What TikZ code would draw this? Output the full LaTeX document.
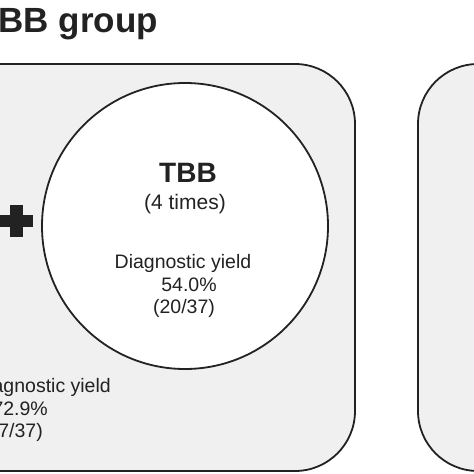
\documentclass[tikz,border=0pt]{standalone}
\usepackage{fontspec}
\setmainfont{Liberation Sans}
\usepackage{tikz}
\usetikzlibrary{positioning,calc}
\usepackage{xcolor}
\definecolor{pnl}{HTML}{F0F0F0}
\definecolor{ink}{HTML}{222222}

\begin{document}
\begin{tikzpicture}[x=1pt,y=-1pt,
  panel/.style={draw=ink,fill=pnl,line width=1.8pt,rounded corners=60pt},
  yieldtxt/.style={font=\fontsize{19.5}{22.5}\selectfont,text=ink,inner sep=0pt}]
  \useasboundingbox (0,0) rectangle (474,474);
  \clip (0,0) rectangle (474,474);
  \node[anchor=base west,inner sep=0pt,text=ink,font=\fontsize{35}{37}\selectfont\bfseries] (title) at (-23,32) {TBB group};
  % the two panels
  \draw[panel] (-250,64) rectangle (355,471);
  \draw[panel] (418,64) rectangle (800,471);
  % plus sign
  \fill[ink] (0,215) rectangle (33,227);
  \fill[ink] (10,205) rectangle (23,237);
  % circle for TBB
  \node[circle,draw=ink,fill=white,line width=1.8pt,minimum size=286pt,inner sep=0pt] (tbb) at (185,226) {};
  \node[anchor=base,inner sep=0pt,text=ink,font=\fontsize{28}{30}\selectfont\bfseries] (tbbname) at (188,182) {TBB};
  \node[anchor=base,inner sep=0pt,text=ink,font=\fontsize{21}{23}\selectfont] (tbbtimes) at (185,209) {(4 times)};
  \node[anchor=base,yieldtxt] (tbby1) at (183,268) {Diagnostic yield};
  \node[anchor=base,yieldtxt] (tbby2) at (189,291) {54.0\%};
  \node[anchor=base,yieldtxt] (tbby3) at (184,313) {(20/37)};
  % yield of the whole group
  \node[anchor=base east,yieldtxt] (grpy1) at (111,392) {Diagnostic yield};
  \node[anchor=base east,yieldtxt] (grpy2) at (48,415) {72.9\%};
  \node[anchor=base east,yieldtxt] (grpy3) at (43,437) {(27/37)};
\end{tikzpicture}
\end{document}
